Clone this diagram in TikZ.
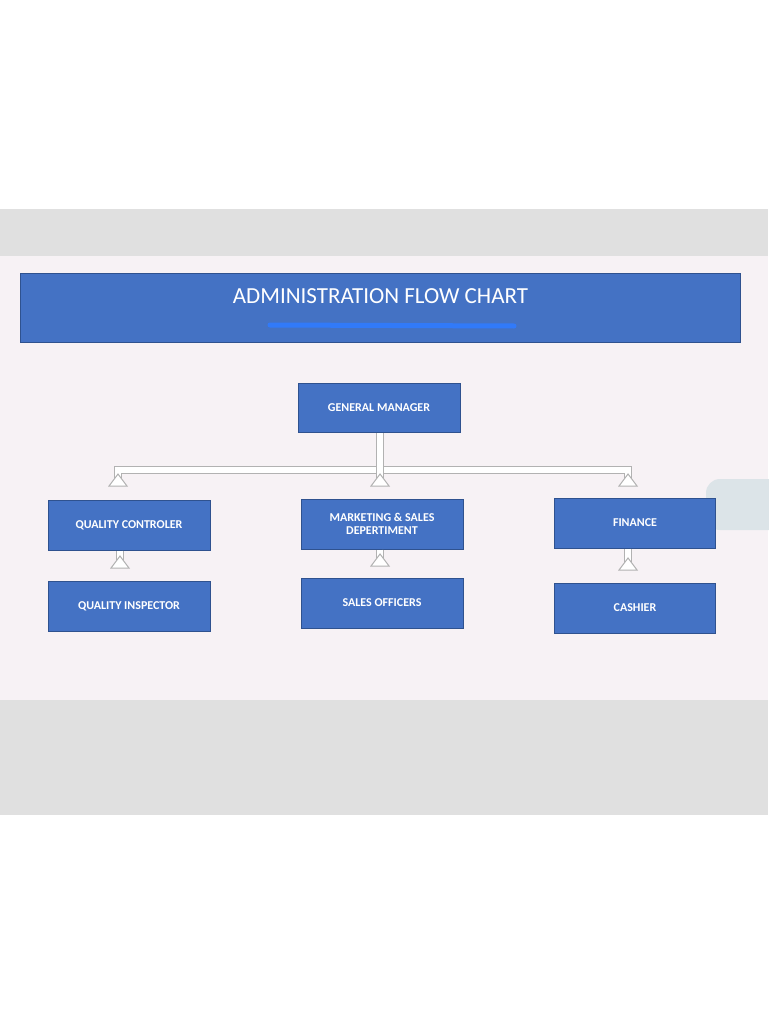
\documentclass[tikz,border=0pt]{standalone}
\usepackage{fontspec}
\setmainfont{Carlito}
\usetikzlibrary{positioning}
\definecolor{boxblue}{HTML}{4472C4}
\definecolor{boxedge}{HTML}{2F528F}
\definecolor{band}{HTML}{E0E0E0}
\definecolor{slide}{HTML}{F7F2F5}
\definecolor{pencil}{HTML}{2F7BFF}
\tikzset{
  box/.style={shape=rectangle, fill=boxblue, draw=boxedge, line width=1pt,
    minimum width=162pt, minimum height=50pt, text=white, align=center,
    font=\bfseries\fontsize{12}{13}\selectfont},
  hollow/.style={draw=gray!60, double=white, double distance=6pt, line width=1pt},
}
\newcommand{\hollowhead}[1]{%
  \filldraw[fill=white, draw=gray!60, line width=1pt]
    ($#1+(-9pt,0)$) -- ($#1+(9pt,0)$) -- ($#1+(0,12pt)$) -- cycle;}
\usetikzlibrary{calc}
\begin{document}
\begin{tikzpicture}[x=1pt, y=-1pt]
    \useasboundingbox (0,0) rectangle (768,1024);
    \fill[white] (0,0) rectangle (768,1024);
    \fill[band] (0,209) rectangle (768,815);
    \fill[slide] (0,256) rectangle (768,700);
    \fill[color={rgb,255:red,220;green,228;blue,232}, rounded corners=14pt] (706,479) rectangle (790,530);
    % title
    \node[box, minimum width=720pt, minimum height=69pt, font=\fontsize{23}{24}\selectfont,
      anchor=north west, text depth=24pt] (title) at (20,273) {ADMINISTRATION FLOW CHART};
    \draw[pencil, line width=5pt, line cap=round, opacity=0.9] (270,325) -- (514,326);
    % boxes
    \node[box, minimum height=49pt] (gm) at (379,408) {GENERAL MANAGER};
    \node[box] (qc) at (129,525) {QUALITY CONTROLER};
    \node[box] (ms) at (382,524) {MARKETING \& SALES\\DEPERTIMENT};
    \node[box, minimum width=161pt] (fin) at (635,523) {FINANCE};
    \node[box] (qi) at (129,606) {QUALITY INSPECTOR};
    \node[box] (so) at (382,603) {SALES OFFICERS};
    \node[box, minimum width=161pt] (cash) at (635,608) {CASHIER};
    % connectors
    \coordinate (qcin) at (118,486);
    \coordinate (finin) at (628,486);
    \coordinate (msin) at (380,486);
    \coordinate (bus) at (380,470);
    \draw[hollow] (qcin) |- (bus) -| (finin);
    \draw[hollow] (gm.south -| msin) -- (msin);
    \hollowhead{(qcin)} \hollowhead{(finin)} \hollowhead{(msin)}
    \coordinate (qiin) at (120,568);
    \coordinate (soin) at (380,566);
    \coordinate (cashin) at (628,570);
    \draw[hollow] (qc.south -| qiin) -- (qiin);
    \draw[hollow] (ms.south -| soin) -- (soin);
    \draw[hollow] (fin.south -| cashin) -- (cashin);
    \hollowhead{(qiin)} \hollowhead{(soin)} \hollowhead{(cashin)}
\end{tikzpicture}
\end{document}
